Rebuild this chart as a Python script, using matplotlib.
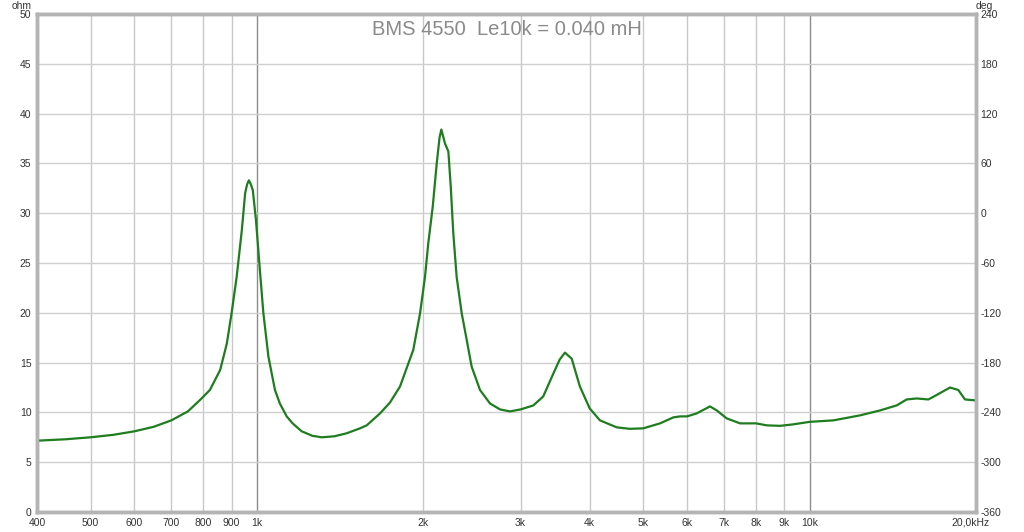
import numpy as np
import matplotlib
matplotlib.use("Agg")
import matplotlib.pyplot as plt
import matplotlib.transforms as mtransforms
from matplotlib.ticker import FixedLocator, NullLocator

# Impedance magnitude (Hz, ohm)
freq = [400, 450, 500, 550, 600, 650, 700, 750, 789, 822, 858, 882, 900, 919,
        939, 952, 960, 967, 975, 983, 996, 1010, 1027, 1049, 1078, 1100, 1132,
        1160, 1205, 1260, 1310, 1380, 1453, 1536, 1580, 1670, 1741, 1815, 1918,
        1973, 2014, 2042, 2080, 2115, 2140, 2156, 2175, 2189, 2220, 2242, 2266,
        2298, 2347, 2396, 2446, 2533, 2640, 2753, 2870, 3000, 3163, 3296, 3438,
        3530, 3608, 3711, 3840, 4000, 4175, 4477, 4731, 5000, 5363, 5668, 5829,
        6000, 6247, 6603, 6790, 7078, 7483, 8000, 8362, 8841, 9341, 10000, 11040,
        12333, 13409, 14372, 14983, 15620, 16400, 16980, 17948, 18580, 19104,
        20000]
ohm = [7.16, 7.3, 7.5, 7.75, 8.1, 8.55, 9.2, 10.1, 11.25, 12.25, 14.26, 16.9,
       20.0, 23.6, 28.3, 32.0, 32.9, 33.3, 32.9, 32.3, 29.3, 25.0, 20.0, 15.6,
       12.25, 10.9, 9.6, 8.9, 8.1, 7.65, 7.5, 7.6, 7.9, 8.4, 8.7, 9.9, 11.0,
       12.6, 16.27, 19.95, 23.6, 27.0, 30.65, 35.0, 37.6, 38.4, 37.6, 37.0,
       36.2, 32.7, 28.0, 23.6, 19.95, 17.3, 14.6, 12.25, 10.9, 10.3, 10.1, 10.3,
       10.7, 11.6, 13.9, 15.3, 16.0, 15.4, 12.6, 10.4, 9.2, 8.5, 8.35, 8.4, 8.9,
       9.5, 9.6, 9.6, 9.9, 10.6, 10.2, 9.4, 8.9, 8.9, 8.7, 8.65, 8.8, 9.05, 9.2,
       9.7, 10.2, 10.7, 11.3, 11.4, 11.3, 11.75, 12.5, 12.25, 11.3, 11.2]

x_ticks = [400, 500, 600, 700, 800, 900, 1000, 2000, 3000, 4000, 5000, 6000,
           7000, 8000, 9000, 10000, 20000]
x_labels = ["400", "500", "600", "700", "800", "900", "1k", "2k", "3k", "4k",
            "5k", "6k", "7k", "8k", "9k", "10k", "20,0kHz"]
ohm_ticks = [0, 5, 10, 15, 20, 25, 30, 35, 40, 45, 50]
deg_ticks = [-360, -300, -240, -180, -120, -60, 0, 60, 120, 180, 240]

title = "BMS 4550  Le10k = 0.040 mH"

plt.rcParams["font.family"] = ["Liberation Sans", "DejaVu Sans"]
fig = plt.figure(figsize=(10.24, 5.32), dpi=100)
ax = fig.add_axes([37 / 1024, 20 / 532, 939 / 1024, 498 / 532])

ax.set_xscale("log")
ax.set_xlim(400, 20000)
ax.set_ylim(0, 50)

# grid, with darker decade lines at 1k and 10k
for f in x_ticks[1:-1]:
    c = "#8c8c8c" if f in (1000, 10000) else "#c8c8c8"
    ax.axvline(f, color=c, lw=1.0, zorder=1)
for v in ohm_ticks[1:-1]:
    ax.axhline(v, color="#cfcfcf", lw=1.0, zorder=1)

ax.plot(freq, ohm, color="#1e7d1e", lw=1.6, zorder=3)

ax.xaxis.set_major_locator(FixedLocator(x_ticks))
ax.xaxis.set_minor_locator(NullLocator())
ax.set_xticklabels(x_labels)
ax.set_yticks(ohm_ticks)
ax.tick_params(axis="x", length=0, labelsize=7.5, colors="#333333", pad=4)
ax.tick_params(axis="y", length=0, labelsize=7.5, colors="#333333", pad=4)
# last frequency label nudged a bit left, as in the reference
last = ax.get_xticklabels()[-1]
last.set_transform(last.get_transform()
                   + mtransforms.ScaledTranslation(-5 / 100, 0, fig.dpi_scale_trans))

for s in ax.spines.values():
    s.set_color("#b4b4b4")
    s.set_linewidth(2.5)

ax2 = ax.twinx()
ax2.set_ylim(-360, 240)
ax2.set_yticks(deg_ticks)
ax2.set_yticklabels([str(d) for d in deg_ticks])
ax2.tick_params(axis="y", length=0, labelsize=7.5, colors="#333333", pad=3)
for s in ax2.spines.values():
    s.set_color("#b4b4b4")
    s.set_linewidth(2.5)

fig.text(22 / 1024, 1 - 1 / 532, "ohm", ha="center", va="top",
         fontsize=7.5, color="#333333")
fig.text(984 / 1024, 1 - 1 / 532, "deg", ha="center", va="top",
         fontsize=7.5, color="#333333")

ax.text(0.5, 0.988, title, transform=ax.transAxes, ha="center", va="top",
        fontsize=14.5, color="#8a8a8a")

fig.savefig("out.png", dpi=100)
